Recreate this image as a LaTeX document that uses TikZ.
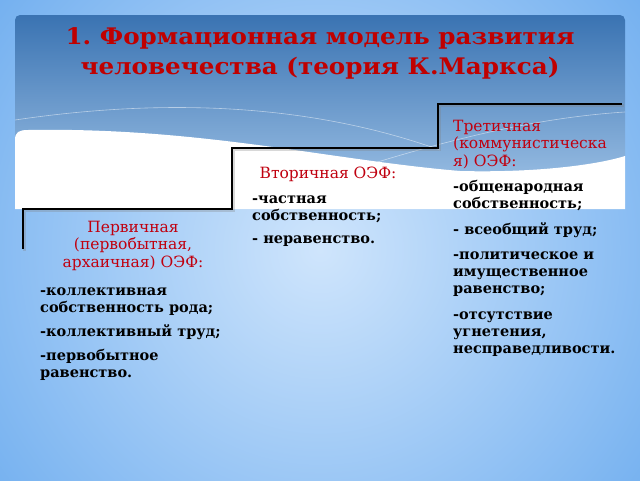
\documentclass[tikz,border=0pt]{standalone}
\usepackage{fontspec}
\setmainfont{DejaVu Serif}
\newfontfamily\titlefont[FakeStretch=1.08]{DejaVu Serif}
\usepackage{xcolor}
\usepackage{tikz}
\usetikzlibrary{positioning}
\frenchspacing

\definecolor{bgblue}{HTML}{4A98EA}
\definecolor{bglight}{HTML}{CFE5FC}
\definecolor{paneltop}{HTML}{3A73B2}
\definecolor{panelbot}{HTML}{A6C8EA}
\definecolor{titlered}{HTML}{C00000}
\definecolor{headred}{HTML}{C0000F}

\begin{document}
\begin{tikzpicture}[x=1pt, y=-1pt,
    titletext/.style={align=center, text=titlered, inner sep=0pt,
      font=\titlefont\fontsize{22.8}{30}\selectfont\bfseries},
    headtext/.style={text=headred, inner sep=0pt,
      font=\fontsize{15.5}{17.5}\selectfont},
    bodytext/.style={align=left, anchor=north west, inner sep=0pt,
      font=\fontsize{14.5}{17}\selectfont\bfseries},
    stairline/.style={line width=2.6pt, black},
    stairshadow/.style={line width=3pt, black!50, opacity=0.3}]
      \useasboundingbox (0,0) rectangle (640,480);
      \fill[bgblue] (0,0) rectangle (640,480);
      \begin{scope}
        \clip (0,0) rectangle (640,480);
        \shade[inner color=bglight, outer color=bgblue] (320,250) circle (600);
      \end{scope}

      \shade[top color=paneltop, bottom color=panelbot, rounded corners=5pt] (15,15) rectangle (625,209);
      \fill[white] (15,209) -- (15,140) .. controls (15,132) and (19,130) .. (28,130)
        .. controls (200,127) and (330,160) .. (460,171)
        .. controls (540,173) and (600,164) .. (625,156) -- (625,209) -- cycle;
      \draw[white, opacity=0.5, line width=0.6pt] (15,120) .. controls (150,100) and (300,100) .. (440,150);
      \draw[white, opacity=0.5, line width=0.6pt] (260,200) .. controls (380,160) and (500,120) .. (625,112);

      \draw[stairshadow] (24.5,250.5) -- (24.5,210.5) -- (233.5,210.5) -- (233.5,149.5) -- (439.5,149.5) -- (439.5,105.5) -- (623.5,105.5);
      \draw[stairline] (23,249) -- (23,209) -- (232,209) -- (232,148) -- (438,148) -- (438,104) -- (622,104);

      \node[titletext] (title) at (320,53) {1. Формационная модель развития\\человечества (теория К.Маркса)};

      \node[headtext, align=center, anchor=north] (first) at (133,219.6) {\strut Первичная\\(первобытная,\\архаичная) ОЭФ:};
      \node[bodytext] (firstlist) at (40,283) {\strut-коллективная\\собственность рода;\\[7pt]-коллективный труд;\\[7pt]-первобытное\\равенство.};

      \node[headtext, anchor=base] (second) at (328,178) {Вторичная ОЭФ:};
      \node[bodytext] (secondlist) at (252,191) {\strut-частная\\собственность;\\[6pt]- неравенство.};

      \node[headtext, align=left, anchor=north west] (third) at (453,118.8) {\strut Третичная\\(коммунистическа\\я) ОЭФ:};
      \node[bodytext] (thirdlist) at (453,179.8) {\strut-общенародная\\собственность;\\[9pt]- всеобщий труд;\\[8pt]-политическое и\\имущественное\\равенство;\\[9pt]-отсутствие\\угнетения,\\несправедливости.};
    \end{tikzpicture}
\end{document}
